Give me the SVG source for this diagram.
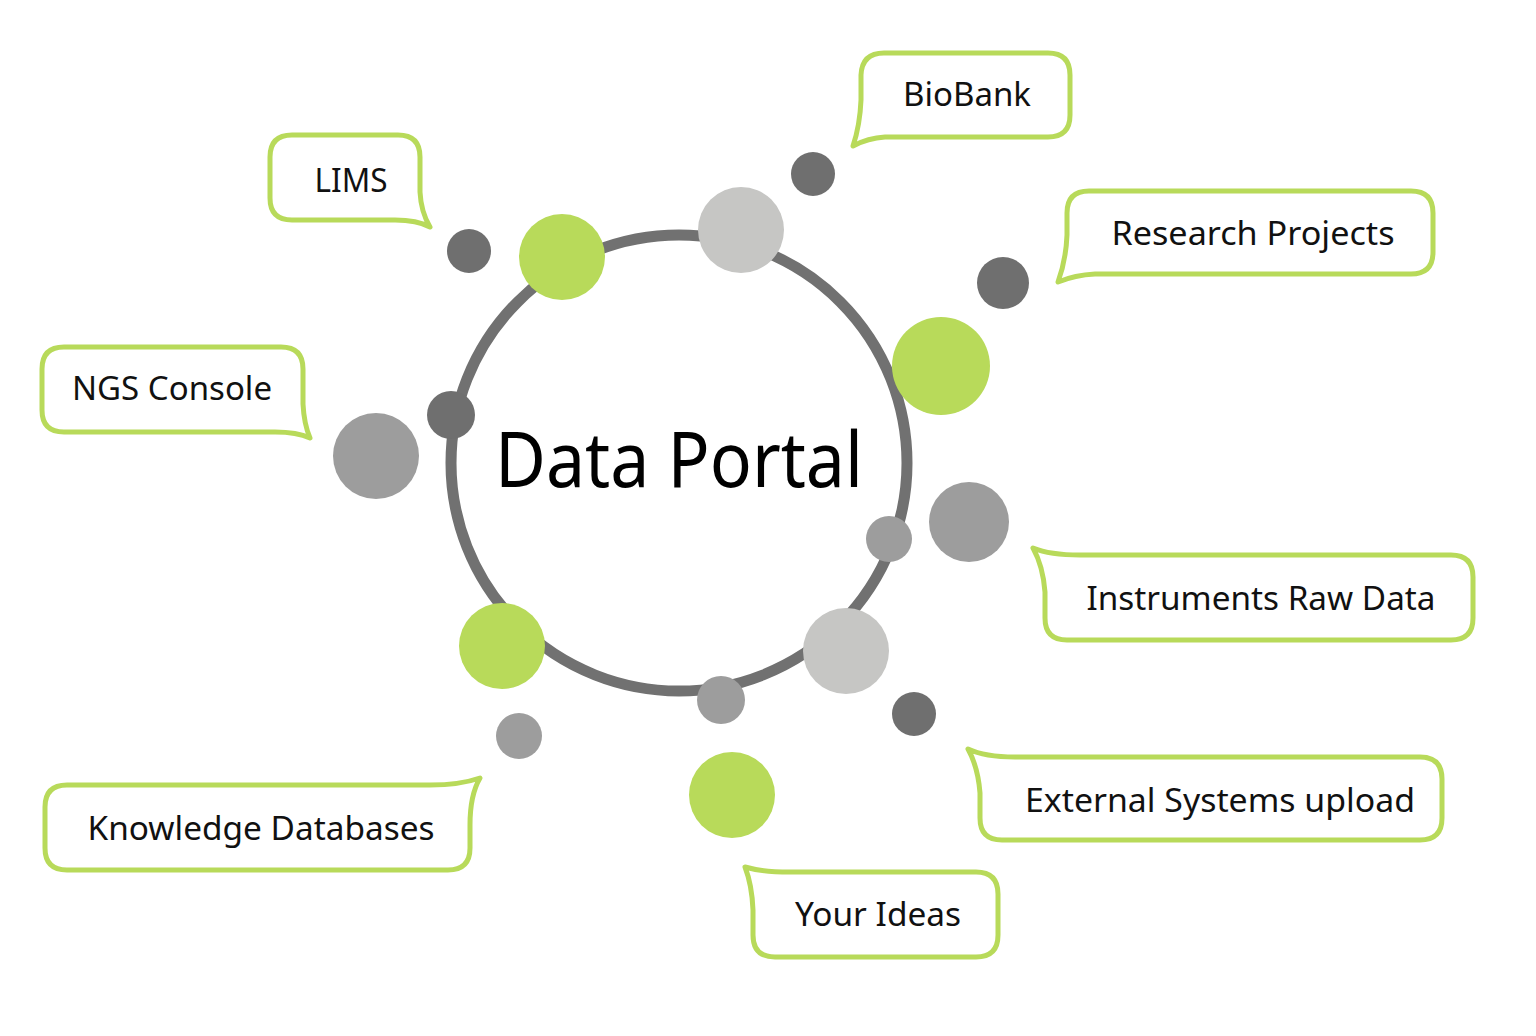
<svg xmlns="http://www.w3.org/2000/svg" width="1536" height="1036" viewBox="0 0 1536 1036">
<style>
.bubble{fill:#ffffff;stroke:#b8da5a;stroke-width:5;stroke-linejoin:round}
.lbl{font-family:"Noto Sans","Open Sans","Liberation Sans",sans-serif;font-size:32px;fill:#111111;text-anchor:middle}
.title{font-family:"Noto Sans","Open Sans","Liberation Sans",sans-serif;font-size:76px;fill:#000000;text-anchor:middle}
.g{fill:#b8da5a}.l{fill:#c6c6c4}.m{fill:#9d9d9d}.d{fill:#6f6f6f}
</style>
<rect width="1536" height="1036" fill="#ffffff"/>
<g id="connectors"/>
<g id="portal">
<circle cx="679" cy="463" r="228" fill="none" stroke="#717171" stroke-width="11"/>
<text class="title" x="679" y="487" textLength="368" lengthAdjust="spacingAndGlyphs">Data Portal</text>
</g>
<g id="dots">
<circle class="g" cx="562" cy="257" r="43"/>
<circle class="l" cx="741" cy="230" r="43"/>
<circle class="g" cx="941" cy="366" r="49"/>
<circle class="d" cx="813" cy="174" r="22"/>
<circle class="d" cx="469" cy="251" r="22"/>
<circle class="d" cx="1003" cy="283" r="26"/>
<circle class="d" cx="451" cy="415" r="24"/>
<circle class="m" cx="376" cy="456" r="43"/>
<circle class="m" cx="969" cy="522" r="40"/>
<circle class="m" cx="889" cy="539" r="23"/>
<circle class="l" cx="846" cy="651" r="43"/>
<circle class="g" cx="502" cy="646" r="43"/>
<circle class="m" cx="721" cy="700" r="24"/>
<circle class="m" cx="519" cy="736" r="23"/>
<circle class="d" cx="914" cy="714" r="22"/>
<circle class="g" cx="732" cy="795" r="43"/>
</g>
<g id="lims">
<path class="bubble" d="M292 135 H398 Q420 135 420 157 V192 Q421 212 430 227 Q417 220 395 220 H292 Q270 220 270 198 V157 Q270 135 292 135 Z"/>
<text class="lbl" x="351" y="192" textLength="73" lengthAdjust="spacingAndGlyphs">LIMS</text>
</g>
<g id="biobank">
<path class="bubble" d="M884 53 H1048 Q1070 53 1070 75 V115 Q1070 137 1048 137 H885 Q868 138 853 146 Q860 125 861 100 V75 Q862 53 884 53 Z"/>
<text class="lbl" x="967" y="106" textLength="128" lengthAdjust="spacingAndGlyphs">BioBank</text>
</g>
<g id="research">
<path class="bubble" d="M1089 191 H1411 Q1433 191 1433 213 V252 Q1433 274 1411 274 H1095 Q1075 275 1058 282 Q1066 260 1067 235 V213 Q1067 191 1089 191 Z"/>
<text class="lbl" x="1253" y="245" textLength="283" lengthAdjust="spacingAndGlyphs">Research Projects</text>
</g>
<g id="ngs">
<path class="bubble" d="M64 347 H281 Q303 347 303 369 V404 Q304 424 310 438 Q297 432 275 432 H64 Q42 432 42 410 V369 Q42 347 64 347 Z"/>
<text class="lbl" x="172" y="400" textLength="200" lengthAdjust="spacingAndGlyphs">NGS Console</text>
</g>
<g id="instruments">
<path class="bubble" d="M1033 548 Q1050 555 1080 555 H1451 Q1473 555 1473 577 V618 Q1473 640 1451 640 H1067 Q1045 640 1045 618 V592 Q1043 566 1033 548 Z"/>
<text class="lbl" x="1261" y="610" textLength="349" lengthAdjust="spacingAndGlyphs">Instruments Raw Data</text>
</g>
<g id="external">
<path class="bubble" d="M968 749 Q985 757 1015 757 H1420 Q1442 757 1442 779 V818 Q1442 840 1420 840 H1002 Q980 840 980 818 V793 Q978 767 968 749 Z"/>
<text class="lbl" x="1220" y="812" textLength="390" lengthAdjust="spacingAndGlyphs">External Systems upload</text>
</g>
<g id="knowledge">
<path class="bubble" d="M67 785 H430 Q460 785 480 778 Q470 795 470 825 V848 Q470 870 448 870 H67 Q45 870 45 848 V807 Q45 785 67 785 Z"/>
<text class="lbl" x="261" y="840" textLength="347" lengthAdjust="spacingAndGlyphs">Knowledge Databases</text>
</g>
<g id="ideas">
<path class="bubble" d="M745 867 Q762 872 790 872 H976 Q998 872 998 894 V935 Q998 957 976 957 H775 Q753 957 753 935 V910 Q752 885 745 867 Z"/>
<text class="lbl" x="878" y="926" textLength="166" lengthAdjust="spacingAndGlyphs">Your Ideas</text>
</g>
</svg>
